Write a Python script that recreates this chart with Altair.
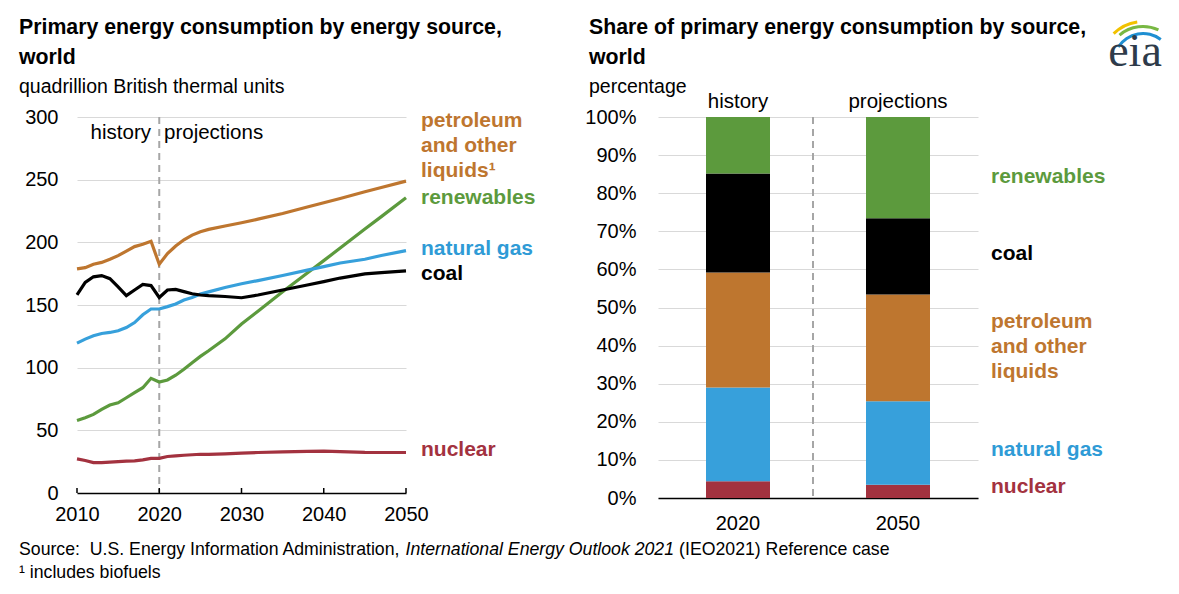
import altair as alt
import pandas as pd

FONT = "Liberation Sans"

# ---------------- left panel: consumption by source (quadrillion Btu) ----------------
years = [2010, 2011, 2012, 2013, 2014, 2015, 2016, 2017, 2018, 2019, 2020, 2021, 2022,
         2023, 2024, 2025, 2026, 2028, 2030, 2032, 2035, 2038, 2040, 2042, 2045, 2047, 2050]
petroleum = [178.8, 179.8, 182.5, 184.0, 186.5, 189.4, 193.0, 196.6, 198.4, 200.8, 182.5, 191.0, 197.0,
             202.0, 205.8, 208.5, 210.3, 213.0, 215.6, 218.5, 223.0, 228.2, 231.6, 235.0, 240.3, 243.8, 248.8]
renewables = [57.9, 60.0, 62.7, 66.7, 70.2, 72.0, 76.0, 80.0, 84.0, 91.5, 88.6, 90.2, 94.0,
              98.7, 104.0, 109.0, 113.5, 123.0, 134.8, 145.0, 160.5, 175.5, 185.4, 195.5, 210.6, 220.5, 235.5]
natural_gas = [119.6, 122.8, 125.4, 127.3, 128.1, 129.4, 132.0, 136.0, 142.2, 146.8, 146.8, 148.7, 150.8,
               154.0, 156.0, 158.8, 160.5, 164.0, 167.0, 169.5, 173.5, 177.8, 180.6, 183.5, 186.5, 189.5, 193.4]
coal = [158.0, 168.0, 172.5, 173.5, 171.0, 164.5, 157.5, 162.0, 166.5, 165.5, 156.0, 162.0, 162.5,
        160.7, 159.0, 158.0, 157.5, 156.8, 155.8, 158.0, 162.0, 166.0, 168.7, 171.5, 174.8, 175.8, 177.2]
nuclear = [27.2, 25.9, 24.2, 24.2, 24.6, 25.1, 25.4, 25.7, 26.4, 27.6, 27.6, 29.1, 29.6,
           30.1, 30.5, 30.9, 30.8, 31.2, 31.8, 32.3, 32.8, 33.2, 33.4, 33.0, 32.4, 32.3, 32.3]

series_names = ["petroleum and other liquids", "renewables", "natural gas", "coal", "nuclear"]
series_colors = ["#BE762F", "#5C9A3D", "#37A0DB", "#000000", "#A3323F"]
label_colors = ["#BE762F", "#5C9A3D", "#2F9BD6", "#000000", "#A3323F"]
x_ticks = [2010, 2020, 2030, 2040, 2050]
y_ticks = [0, 50, 100, 150, 200, 250, 300]
split_year = [2020]

# ---------------- right panel: shares (percent) ----------------
share_years = ["2020", "2050"]
share_periods = ["history", "projections"]
share_sources = ["nuclear", "natural gas", "petroleum and other liquids", "coal", "renewables"]
share_colors = ["#A3323F", "#3497D3", "#BD732D", "#000000", "#5B9841"]
share_2020 = [4.4, 24.6, 30.2, 26.0, 14.8]
share_2050 = [3.5, 21.9, 28.0, 20.0, 26.6]
pct_ticks = list(range(0, 101, 10))

rows = []
for name, vals in zip(series_names, [petroleum, renewables, natural_gas, coal, nuclear]):
    for yr, v in zip(years, vals):
        rows.append({"year": yr, "source": name, "value": v})
lines_df = pd.DataFrame(rows)

srows = []
for yr, vals in zip(share_years, [share_2020, share_2050]):
    for i, (s, v) in enumerate(zip(share_sources, vals)):
        srows.append({"year": yr, "source": s, "share": v, "rank": i})
share_df = pd.DataFrame(srows)

LW, LH = 329, 376
RW, RH = 320, 381
one = pd.DataFrame({"k": [0]})


def txt(text, x, y, size=20, weight="normal", color="black", align="left",
        baseline="middle", font=FONT, line_height=None, style="normal"):
    kw = dict(align=align, baseline=baseline, fontSize=size, fontWeight=weight,
              color=color, font=font, fontStyle=style)
    if line_height is not None:
        kw["lineHeight"] = line_height
    return alt.Chart(one).mark_text(**kw).encode(
        x=alt.value(x), y=alt.value(y), text=alt.value(text))


# ---------- left ----------
xl = alt.X("year:Q", scale=alt.Scale(domain=[2010, 2050], nice=False, zero=False),
           axis=alt.Axis(values=x_ticks, format="d", title=None, grid=False, ticks=False,
                         labelFontSize=20, labelColor="black", labelPadding=11, labelFlush=False,
                         domainColor="black", domainWidth=1.5, labelFont=FONT))
yl = alt.Y("value:Q", scale=alt.Scale(domain=[0, 300], nice=False),
           axis=alt.Axis(values=y_ticks, title=None, grid=True, gridColor="#d9d9d9", gridWidth=1,
                         ticks=False, domain=False, labelFontSize=20, labelColor="black",
                         labelPadding=19, labelFont=FONT))

lines = alt.Chart(lines_df).mark_line(strokeWidth=3.2).encode(
    x=xl, y=yl,
    color=alt.Color("source:N", scale=alt.Scale(domain=series_names, range=series_colors), legend=None),
)
split_rule = alt.Chart(pd.DataFrame({"year": split_year})).mark_rule(
    color="#a6a6a6", strokeDash=[7, 5], strokeWidth=2).encode(
    x=xl, y=alt.value(0), y2=alt.value(LH))
tick_marks = alt.Chart(pd.DataFrame({"year": x_ticks})).mark_rule(
    color="black", strokeWidth=1.5).encode(x=xl, y=alt.value(LH), y2=alt.value(LH - 5))

SRC = 17.7
left_layers = [
    split_rule, lines, tick_marks,
    txt("history", 74, 16, size=20.5, align="right"),
    txt("projections", 87, 16, size=20.5),
    txt(["Primary energy consumption by energy source,", "world"], -58, -83, size=21.3,
        weight="bold", baseline="alphabetic", line_height=30),
    txt("quadrillion British thermal units", -58, -24, size=19.5, baseline="alphabetic"),
    txt(["petroleum", "and other", "liquids\u00b9"], 344, 9.5, size=21, weight="bold",
        color=label_colors[0], baseline="alphabetic", line_height=25),
    txt("renewables", 344, 80.7, size=21, weight="bold", color=label_colors[1]),
    txt("natural gas", 344, 132, size=21, weight="bold", color=label_colors[2]),
    txt("coal", 344, 157, size=21, weight="bold", color=label_colors[3]),
    txt("nuclear", 344, 333, size=21, weight="bold", color=label_colors[4]),
    txt("Source:\u00a0 U.S. Energy Information Administration,", -58, 433, size=SRC),
    txt("International Energy Outlook 2021", 404.6 - 76, 433, size=SRC, style="italic"),
    txt("(IEO2021) Reference case", 678.1 - 76, 433, size=SRC),
    txt("\u00b9 includes biofuels", -58, 456, size=SRC),
]
left = alt.layer(*left_layers).properties(width=LW, height=LH)

# ---------- right ----------
xr = alt.X("year:N", scale=alt.Scale(domain=share_years, paddingInner=0.6, paddingOuter=0.3),
           axis=alt.Axis(title=None, labelAngle=0, ticks=False, domainColor="black", domainWidth=1.5,
                         labelFontSize=20, labelPadding=15, labelColor="black", labelFont=FONT))
yr_ = alt.Y("share:Q", stack="zero", scale=alt.Scale(domain=[0, 100], nice=False),
            axis=alt.Axis(values=pct_ticks, labelExpr="datum.value + '%'", title=None, grid=True,
                          gridColor="#d9d9d9", gridWidth=1, ticks=False, domain=False,
                          labelFontSize=20, labelPadding=22, labelColor="black", labelFont=FONT))

bars = alt.Chart(share_df).mark_bar(size=64).encode(
    x=xr, y=yr_,
    color=alt.Color("source:N", scale=alt.Scale(domain=share_sources, range=share_colors), legend=None),
    order=alt.Order("rank:Q"),
)
period_text = alt.Chart(pd.DataFrame({"year": share_years, "period": share_periods})).mark_text(
    fontSize=20.5, font=FONT, color="black", baseline="middle").encode(
    x=xr, y=alt.value(-15), text="period:N")
divider = alt.Chart(one).mark_rule(color="#a6a6a6", strokeDash=[7, 5], strokeWidth=2).encode(
    x=alt.value(155), y=alt.value(0), y2=alt.value(RH))


def arc(color, t1, t2, r_out, r_in):
    return alt.Chart(one).mark_arc(color=color).encode(
        x=alt.value(485), y=alt.value(-54), theta=alt.value(t1), theta2=alt.value(t2),
        radius=alt.value(r_out), radius2=alt.value(r_in))


right_layers = [
    bars, divider, period_text,
    txt(["Share of primary energy consumption by source,", "world"], -69, -83, size=21.3,
        weight="bold", baseline="alphabetic", line_height=30),
    txt("percentage", -69, -24, size=19.5, baseline="alphabetic"),
    txt("renewables", 333, 60, size=21, weight="bold", color="#5C9A3D"),
    txt("coal", 333, 137, size=21, weight="bold", color="#000000"),
    txt(["petroleum", "and other", "liquids"], 333, 211, size=21, weight="bold",
        color="#BE762F", baseline="alphabetic", line_height=25),
    txt("natural gas", 333, 333, size=21, weight="bold", color="#2F9BD6"),
    txt("nuclear", 333, 370, size=21, weight="bold", color="#A3323F"),
    arc("#F2C200", 5.498, 6.144, 43, 40),
    arc("#78B843", 5.585, 6.720, 38, 35),
    arc("#1E8FD2", 5.288, 6.929, 31, 28),
    txt("eia", 477, -51, size=46, font="Liberation Serif", color="#2E3B4A",
        align="center", baseline="alphabetic"),
]
right = alt.layer(*right_layers).properties(width=RW, height=RH)

chart = alt.hconcat(left, right, spacing=252, bounds="flush").properties(
    padding={"left": 18, "top": 16, "right": 5, "bottom": 5},
    autosize=alt.AutoSizeParams(type="pad"),
).configure(font=FONT).configure_view(stroke="transparent")

chart.save("out.html", embed_options={"renderer": "svg", "actions": False})
